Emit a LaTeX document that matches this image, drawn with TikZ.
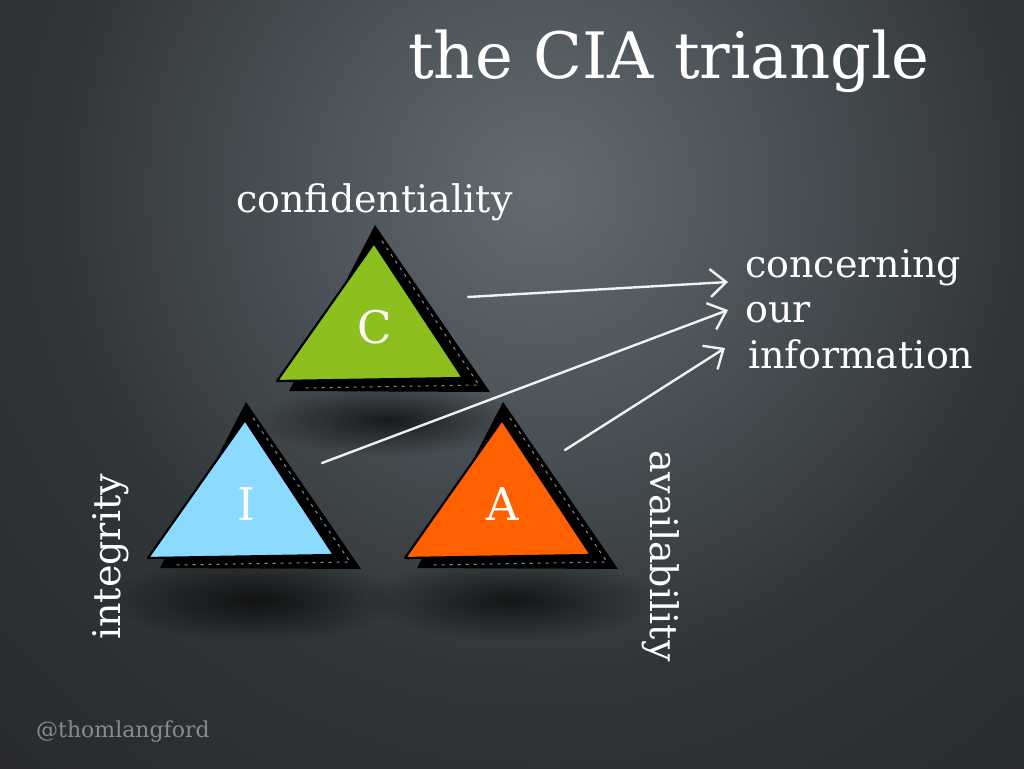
\documentclass[tikz,border=0pt]{standalone}
\usepackage{fontspec}
\setmainfont{DejaVu Serif}
\usetikzlibrary{arrows.meta,fadings}
\definecolor{cgreen}{RGB}{141,192,30}
\definecolor{cblue}{RGB}{140,218,255}
\definecolor{corange}{RGB}{255,96,0}
\definecolor{handle}{RGB}{138,138,138}
\pgfdeclareradialshading{bgshade}{\pgfpoint{0bp}{0bp}}{rgb(0bp)=(0.38,0.42,0.44); rgb(5bp)=(0.30,0.33,0.35); rgb(11bp)=(0.19,0.21,0.22); rgb(20bp)=(0.15,0.155,0.17); rgb(30bp)=(0.11,0.11,0.12); rgb(50bp)=(0.08,0.08,0.08)}
\tikzfading[name=softfade, inner color=transparent!0, outer color=transparent!100]
\tikzset{
  letter/.style={text=white, font=\fontsize{45}{50}\selectfont, inner sep=0pt},
  label/.style={text=white, font=\fontsize{38}{44}\selectfont, inner sep=0pt},
  chalk/.style={draw=white, line width=2.4pt, opacity=0.92, line cap=round,
    -{Straight Barb[length=16pt,width=28pt,line width=2.4pt]}},
  softshadow/.style={fill=black, opacity=0.65, path fading=softfade},
}
\newcommand{\ciatri}[5]{%
  \begin{scope}[shift={(#1,#2)}]
    \fill[black] (0,-2) -- (115,165) -- (-86,164) -- cycle;
    \fill[#3, draw=black, line width=2.2pt, line join=round] (-1,16) -- (88,151) -- (-98,154) -- cycle;
    \draw[white, opacity=.55, dash pattern=on 3pt off 5pt, line width=1pt] (7,14) -- (104,158) -- (-70,161);
    \node[letter] (#4) at (0,100) {#5};
  \end{scope}}
\begin{document}
\begin{tikzpicture}[x=1pt,y=-1pt]
\useasboundingbox (0,0) rectangle (1024,768);
\begin{scope}
  \clip (0,0) rectangle (1024,768);
  \shade[shading=bgshade] (540,190) circle (1100pt);
\end{scope}
% drop shadows
\fill[softshadow] (388,420) ellipse (130pt and 36pt);
\fill[softshadow] (255,600) ellipse (145pt and 42pt);
\fill[softshadow] (512,600) ellipse (145pt and 42pt);
% triangles
\ciatri{375}{227}{cgreen}{C}{C}
\ciatri{246}{404}{cblue}{I}{I}
\ciatri{503}{404}{corange}{A}{A}
% texts
\node[text=white, font=\fontsize{64}{70}\selectfont, inner sep=0pt, anchor=base west] (title) at (408,78) {the CIA triangle};
\node[label, anchor=base west] (conf) at (236,212) {confidentiality};
\node[label, anchor=base west] (concerning) at (745,277) {concerning};
\node[label, anchor=base west] (our) at (745,322) {our};
\node[label, anchor=base west] (information) at (748,368) {information};
\node[label, anchor=base west, rotate=90] (integrity) at (120,640) {integrity};
\node[label, anchor=base west, rotate=-90] (availability) at (650,450) {availability};
\node[text=handle, font=\fontsize{22}{26}\selectfont, inner sep=0pt, anchor=base west] (handle) at (36,737) {@thomlangford};
% arrows
\coordinate (s1) at (468,297);
\coordinate (t1) at (728,282);
\coordinate (s2) at (322,463);
\coordinate (t2) at (728,310);
\coordinate (s3) at (565,450);
\coordinate (t3) at (725,348);
\draw[chalk] (s1) -- (t1);
\draw[chalk] (s2) -- (t2);
\draw[chalk] (s3) -- (t3);
\end{tikzpicture}
\end{document}
